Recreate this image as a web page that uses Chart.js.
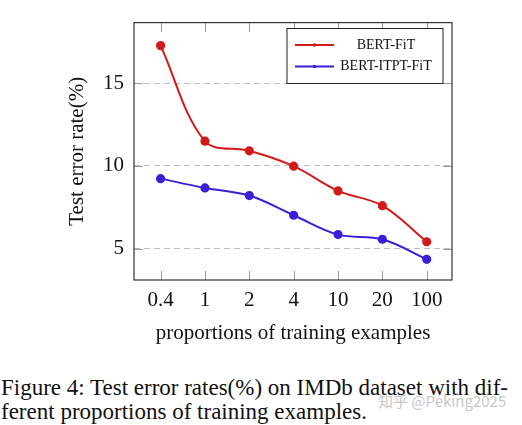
<!DOCTYPE html>
<html>
<head>
<meta charset="utf-8">
<script src="https://cdn.jsdelivr.net/npm/chart.js@4"></script>
<style>
  html, body { margin: 0; padding: 0; background: #fff; }
  body { width: 522px; height: 425px; position: relative; overflow: hidden; }
  #wrap { position: absolute; left: 0; top: 0; width: 522px; height: 350px; }
  .cap { position: absolute; left: 1px; font-family: "Liberation Serif", serif; font-size: 23px; color: #111; white-space: nowrap; }
  #wm { position: absolute; left: 378px; top: 390px; font-family: "Noto Sans CJK SC", "Noto Sans", sans-serif; font-size: 15px; color: #c8c8c8; white-space: nowrap; }
</style>
</head>
<body>
<div id="wrap"><canvas id="errChart"></canvas></div>
<div class="cap" style="top:375px">Figure 4: Test error rates(%) on IMDb dataset with dif-</div>
<div class="cap" style="top:399px">ferent proportions of training examples.</div>
<div id="wm">知乎 @Peking2025</div>
<script>
const categories = ['0.4', '1', '2', '4', '10', '20', '100'];
const bertFit = [17.26, 11.49, 10.91, 9.98, 8.49, 7.6, 5.42];
const bertItptFit = [9.23, 8.67, 8.21, 7.02, 5.85, 5.57, 4.36];
const yTicks = [5, 10, 15];

const serif = '"Liberation Serif", "Times New Roman", serif';

// pgfplots-like frame, inner ticks and legend box
const framePlugin = {
  id: 'frame',
  afterDatasetsDraw(chart) {
    const { ctx, chartArea: a, scales } = chart;
    ctx.save();
    ctx.strokeStyle = '#999';
    ctx.lineWidth = 1;
    ctx.beginPath();
    categories.forEach((c, i) => {
      const x = Math.round(scales.x.getPixelForValue(i)) + 0.5;
      ctx.moveTo(x, a.bottom); ctx.lineTo(x, a.bottom - 9);
      ctx.moveTo(x, a.top); ctx.lineTo(x, a.top + 9);
    });
    yTicks.forEach(v => {
      const y = Math.round(scales.y.getPixelForValue(v)) + 0.5;
      ctx.moveTo(a.left, y); ctx.lineTo(a.left + 9, y);
      ctx.moveTo(a.right, y); ctx.lineTo(a.right - 9, y);
    });
    ctx.stroke();

    ctx.strokeStyle = '#333';
    ctx.lineWidth = 1.2;
    ctx.strokeRect(a.left, a.top, a.right - a.left, a.bottom - a.top);

    // legend
    const lx = 287, ly = 28.5, lw = 156, lh = 55;
    ctx.fillStyle = '#fff';
    ctx.fillRect(lx, ly, lw, lh);
    ctx.strokeStyle = '#222';
    ctx.lineWidth = 1;
    ctx.strokeRect(lx, ly, lw, lh);
    chart.data.datasets.forEach((ds, i) => {
      const y = ly + 16.5 + i * 21.5;
      ctx.strokeStyle = ds.borderColor;
      ctx.lineWidth = 1.8;
      ctx.beginPath();
      ctx.moveTo(295, y); ctx.lineTo(334, y);
      ctx.stroke();
      ctx.fillStyle = ds.borderColor;
      ctx.beginPath();
      ctx.arc(314.5, y, 1.8, 0, Math.PI * 2);
      ctx.fill();
      ctx.fillStyle = '#111';
      ctx.font = '14px ' + serif;
      ctx.textAlign = 'center';
      ctx.textBaseline = 'middle';
      ctx.fillText(ds.label, 386, y);
    });
    ctx.restore();
  }
};

new Chart(document.getElementById('errChart'), {
  type: 'line',
  data: {
    datasets: [
      {
        label: 'BERT-FiT',
        data: bertFit.map((v, i) => ({ x: i, y: v })),
        borderColor: '#d21a1a',
        backgroundColor: '#d21a1a',
        borderWidth: 2,
        pointRadius: 3.6,
        tension: 0.35,
      },
      {
        label: 'BERT-ITPT-FiT',
        data: bertItptFit.map((v, i) => ({ x: i, y: v })),
        borderColor: '#3b1fd8',
        backgroundColor: '#3b1fd8',
        borderWidth: 2,
        pointRadius: 3.6,
        tension: 0.35,
      },
    ],
  },
  options: {
    responsive: true,
    maintainAspectRatio: false,
    animation: false,
    layout: { padding: { left: 0, right: 70, top: 19, bottom: 0 } },
    plugins: { legend: { display: false }, tooltip: { enabled: false } },
    scales: {
      x: {
        type: 'linear',
        min: -0.6,
        max: 6.57,
        afterBuildTicks: s => { s.ticks = categories.map((c, i) => ({ value: i })); },
        afterFit: s => { s.height = 70; },
        grid: { display: false, drawTicks: false },
        border: { display: false },
        ticks: {
          callback: v => categories[v],
          color: '#111',
          padding: 8,
          font: { family: serif, size: 21 },
          maxRotation: 0,
        },
        title: {
          display: true,
          text: 'proportions of training examples',
          color: '#111',
          font: { family: serif, size: 21 },
          padding: { top: 7 },
        },
      },
      y: {
        min: 3.11,
        max: 18.65,
        afterBuildTicks: s => { s.ticks = yTicks.map(v => ({ value: v })); },
        afterFit: s => { s.width = 134; },
        grid: { color: '#bbb', drawTicks: false },
        border: { display: false, dash: [6, 4] },
        ticks: {
          color: '#111',
          padding: 10,
          font: { family: serif, size: 21 },
        },
        title: {
          display: true,
          text: 'Test error rate(%)',
          color: '#111',
          font: { family: serif, size: 21 },
          padding: { top: 65 },
        },
      },
    },
  },
  plugins: [framePlugin],
});
</script>
</body>
</html>
